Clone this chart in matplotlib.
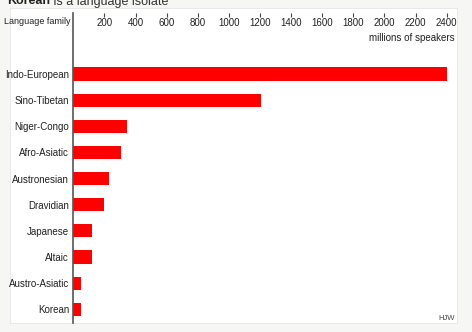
import matplotlib.pyplot as plt
from matplotlib.patches import Rectangle

families = ["Indo-European", "Sino-Tibetan", "Niger-Congo", "Afro-Asiatic",
            "Austronesian", "Dravidian", "Japanese", "Altaic",
            "Austro-Asiatic", "Korean"]
speakers = [2400, 1205, 348, 305, 230, 195, 120, 120, 51, 51]
xticks = [200, 400, 600, 800, 1000, 1200, 1400, 1600, 1800, 2000, 2200, 2400]

W, H = 472, 332
plt.rcParams['font.family'] = ["Liberation Sans", "DejaVu Sans"]
TXT = "#222222"

fig = plt.figure(figsize=(W / 100, H / 100), dpi=100)
fig.patch.set_facecolor("#f6f6f4")

# white panel behind the chart
fig.patches.append(Rectangle((10 / W, 1 - 323 / H), 447 / W, 315 / H,
                             transform=fig.transFigure, facecolor="white",
                             edgecolor="#e6e6e6", lw=0.6, zorder=-5))

left, right = 73.3, 446.7
top, bottom = 13, 323
ax = fig.add_axes([left / W, 1 - bottom / H, (right - left) / W, (bottom - top) / H])
ax.set_facecolor("none")

y = list(range(len(families)))
ax.barh(y, speakers, height=0.5, color="#ff0000", zorder=2)

ax.set_xlim(0, 2400)
ax.set_ylim(9 + (bottom - 309.3) / 26.14, -(74 - top) / 26.14)

for s in ["top", "right", "bottom"]:
    ax.spines[s].set_visible(False)
ax.spines["left"].set_color("#555555")
ax.spines["left"].set_linewidth(1.2)

ax.xaxis.tick_top()
ax.set_xticks(xticks)
ax.set_xticklabels([str(t) for t in xticks])
ax.tick_params(axis="x", direction="in", length=3, width=0.8, color="#444444",
               pad=-10.5, labelsize=7, labelcolor=TXT)
ax.set_yticks(y)
ax.set_yticklabels(families)
ax.tick_params(axis="y", length=0, pad=3, labelsize=7, labelcolor=TXT)

fig.text(70 / W, 1 - 21 / H, "Language family", fontsize=6.5, ha="right",
         va="center", color=TXT)
fig.text(455 / W, 1 - 38 / H, "millions of speakers", fontsize=7, ha="right",
         va="center", color=TXT)
fig.text(455 / W, 1 - 318 / H, "HJW", fontsize=5.5, ha="right", va="center",
         color="#444444")

# caption cut off by the top edge, as in the source picture
t1 = fig.text(7 / W, 1 - 4.5 / H, "Korean", fontsize=9, fontweight="bold",
              color="#222222", va="baseline")
fig.canvas.draw()
x1 = t1.get_window_extent().x1
fig.text(x1 / W, 1 - 4.5 / H, " is a language isolate", fontsize=9,
         color="#333333", va="baseline")

fig.savefig("out.png", dpi=100, facecolor=fig.get_facecolor())
